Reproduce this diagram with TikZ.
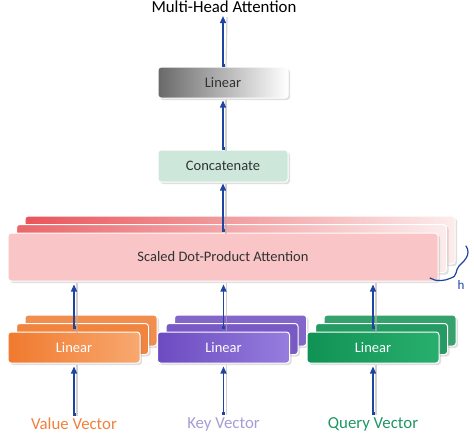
\documentclass[tikz,border=0pt]{standalone}
\usepackage{fontspec}
\setmainfont{Carlito}
\usetikzlibrary{arrows.meta,shadows}
\definecolor{arrowblue}{RGB}{30,70,160}
\definecolor{txtgray}{RGB}{50,50,50}
\definecolor{mint}{RGB}{205,232,218}
\definecolor{pinkfront}{RGB}{249,197,199}
\definecolor{pinkdark}{RGB}{232,85,90}
\definecolor{pinklight}{RGB}{252,236,236}
\definecolor{orgA}{RGB}{240,122,46}
\definecolor{orgB}{RGB}{248,168,112}
\definecolor{purA}{RGB}{108,75,192}
\definecolor{purB}{RGB}{150,125,222}
\definecolor{grnA}{RGB}{17,146,85}
\definecolor{grnB}{RGB}{40,175,110}
\definecolor{keylab}{RGB}{168,155,214}
\definecolor{vallab}{RGB}{240,128,60}
\definecolor{qrylab}{RGB}{30,150,100}
\tikzset{
  boxbase/.style={rounded corners=3pt, draw=white, line width=1pt, inner sep=0pt,
    drop shadow={shadow xshift=2pt, shadow yshift=-2pt, opacity=0.25}},
  arr/.style={draw=arrowblue, line width=1.2pt,
    {Square[length=3pt,width=3pt]}-{Triangle[length=7pt,width=6pt]}},
  arrsh/.style={draw=gray!60, line width=1.2pt, opacity=0.6},
  lintxt/.style={text=white, font=\fontsize{14.5}{16}\selectfont},
  darktxt/.style={text=txtgray, font=\fontsize{14.5}{16}\selectfont},
  lab/.style={font=\fontsize{16.8}{18}\selectfont},
}
\begin{document}
\begin{tikzpicture}[x=1pt,y=-1pt]
\useasboundingbox (0,0) rectangle (474,437);
% title
\node[font=\fontsize{16.8}{18}\selectfont, text=black, inner sep=1pt] (title) at (224,7) {Multi-Head Attention};
% top linear
\node[boxbase, minimum width=130pt, minimum height=31pt, left color={rgb,255:red,105;green,105;blue,105}, right color=white, darktxt] (lintop) at (223,82.5) {Linear};
% concatenate
\node[boxbase, minimum width=130pt, minimum height=32pt, fill=mint, darktxt] (concat) at (223,166) {Concatenate};
% SDPA stack
\node[boxbase, minimum width=430pt, minimum height=48pt, left color=pinkdark, right color=pinklight] (sdpa3) at (240,240) {};
\node[boxbase, minimum width=430pt, minimum height=48pt, left color=pinkdark!90, right color=pinklight] (sdpa2) at (231.5,248.5) {};
\node[boxbase, minimum width=430pt, minimum height=48pt, fill=pinkfront, darktxt] (sdpa) at (223,257) {Scaled Dot-Product Attention};
% h brace
\draw[arrowblue, line width=1.2pt, line cap=round]
  (466,246) .. controls (472,255) and (463,262) .. (459,266)
  .. controls (455,270) and (458,276) .. (451,278)
  .. controls (445,281) and (436,282) .. (430,278);
\node[text=arrowblue, font=\fontsize{13}{14}\selectfont, inner sep=0pt] (hlab) at (461,285) {h};
% value linear stack
\node[boxbase, minimum width=132pt, minimum height=31pt, fill=orgA!85] (linV3) at (91,330.5) {};
\node[boxbase, minimum width=132pt, minimum height=31pt, fill=orgA!92] (linV2) at (82.5,339) {};
\node[boxbase, minimum width=132pt, minimum height=31pt, left color=orgA, right color=orgB, lintxt] (linV) at (74,347.5) {Linear};
% key linear stack
\node[boxbase, minimum width=132pt, minimum height=31pt, fill=purA!85] (linK3) at (240.5,330.5) {};
\node[boxbase, minimum width=132pt, minimum height=31pt, fill=purA!92] (linK2) at (232,339) {};
\node[boxbase, minimum width=132pt, minimum height=31pt, left color=purA, right color=purB, lintxt] (linK) at (223.5,347.5) {Linear};
% query linear stack
\node[boxbase, minimum width=132pt, minimum height=31pt, fill=grnA!85] (linQ3) at (390,330.5) {};
\node[boxbase, minimum width=132pt, minimum height=31pt, fill=grnA!92] (linQ2) at (381.5,339) {};
\node[boxbase, minimum width=132pt, minimum height=31pt, left color=grnA, right color=grnB, lintxt] (linQ) at (373,347.5) {Linear};
% labels
\node[lab, text=vallab] (labV) at (74,424) {Value Vector};
\node[lab, text=keylab] (labK) at (223.5,424) {Key Vector};
\node[lab, text=qrylab] (labQ) at (373,424) {Query Vector};
% arrow shadows
\begin{scope}[transform canvas={xshift=3pt, yshift=-1pt}]
\draw[arrsh] (lintop.north) -- ([yshift=-2pt]title.south);
\draw[arrsh] (concat.north) -- (lintop.south);
\draw[arrsh] (sdpa.north) -- (concat.south);
\draw[arrsh] (linV.north) -- (linV.north |- sdpa.south);
\draw[arrsh] (linK.north) -- (linK.north |- sdpa.south);
\draw[arrsh] (linQ.north) -- (linQ.north |- sdpa.south);
\draw[arrsh] (labV.north) -- (linV.south);
\draw[arrsh] (labK.north) -- (linK.south);
\draw[arrsh] (labQ.north) -- (linQ.south);
\end{scope}
% arrows
\draw[arr] (lintop.north) -- ([yshift=-2pt]title.south -| lintop.north);
\draw[arr] (concat.north) -- ([yshift=-2pt]lintop.south);
\draw[arr] ([yshift=1pt]sdpa.north) -- ([yshift=-1pt]concat.south);
\draw[arr] ([yshift=3pt]linV.north) -- ([yshift=-3pt]linV.north |- sdpa.south);
\draw[arr] ([yshift=3pt]linK.north) -- ([yshift=-3pt]linK.north |- sdpa.south);
\draw[arr] ([yshift=3pt]linQ.north) -- ([yshift=-3pt]linQ.north |- sdpa.south);
\draw[arr] ([yshift=-1pt]labV.north) -- ([yshift=-3pt]linV.south);
\draw[arr] ([yshift=-1pt]labK.north) -- ([yshift=-3pt]linK.south);
\draw[arr] ([yshift=-1pt]labQ.north) -- ([yshift=-3pt]linQ.south);
\end{tikzpicture}
\end{document}
